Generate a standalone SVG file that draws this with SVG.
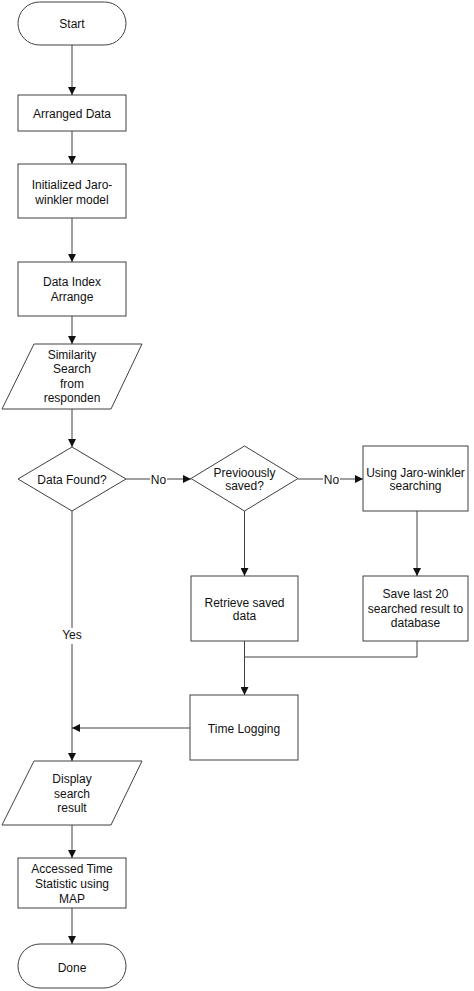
<svg xmlns="http://www.w3.org/2000/svg" width="474" height="991" viewBox="0 0 474 991">
<style>
.s{fill:#fff;stroke:#404040;stroke-width:1}
.c{fill:none;stroke:#404040;stroke-width:1}
text{font-family:"Liberation Sans",Arial,sans-serif;font-size:12px;fill:#111;text-anchor:middle}
</style>
<defs>
<marker id="ah" viewBox="0 0 10 10" refX="10" refY="5" markerWidth="8" markerHeight="8" markerUnits="userSpaceOnUse" orient="auto">
<path d="M0,0 L10,5 L0,10 z" fill="#111"/>
</marker>
</defs>
<rect width="474" height="991" fill="#fff"/>
<g id="connectors">
<path class="c" d="M72,45 V95" marker-end="url(#ah)"/>
<path class="c" d="M72,131 V164" marker-end="url(#ah)"/>
<path class="c" d="M72,218 V262" marker-end="url(#ah)"/>
<path class="c" d="M72,316 V344" marker-end="url(#ah)"/>
<path class="c" d="M72,409 V447" marker-end="url(#ah)"/>
<path class="c" d="M126,479 H191" marker-end="url(#ah)"/>
<path class="c" d="M298,479 H363" marker-end="url(#ah)"/>
<path class="c" d="M244.5,511 V576" marker-end="url(#ah)"/>
<path class="c" d="M417,511 V576" marker-end="url(#ah)"/>
<path class="c" d="M244.5,641 V695" marker-end="url(#ah)"/>
<path class="c" d="M417,641 V657 H244.5"/>
<path class="c" d="M190,728 H72" marker-end="url(#ah)"/>
<path class="c" d="M72,511 V761" marker-end="url(#ah)"/>
<path class="c" d="M72,825 V858" marker-end="url(#ah)"/>
<path class="c" d="M72,908 V944" marker-end="url(#ah)"/>
<rect x="150" y="472" width="17" height="14" fill="#fff"/>
<text x="158.5" y="483.5">No</text>
<rect x="323" y="472" width="17" height="14" fill="#fff"/>
<text x="331.5" y="483.5">No</text>
<rect x="61" y="628" width="22" height="16" fill="#fff"/>
<text x="72" y="639">Yes</text>
</g>
<g id="start">
<rect class="s" x="18" y="2" width="108" height="43" rx="21.5"/>
<text x="72" y="27.5">Start</text>
</g>
<g id="arranged-data">
<rect class="s" x="18" y="95" width="108" height="36"/>
<text x="72" y="117.5">Arranged Data</text>
</g>
<g id="init-model">
<rect class="s" x="18" y="164" width="108" height="54"/>
<text x="72" y="188.5">Initialized Jaro-</text>
<text x="72" y="203.5">winkler model</text>
</g>
<g id="data-index">
<rect class="s" x="18" y="262" width="108" height="54"/>
<text x="72" y="285.5">Data Index</text>
<text x="72" y="300.5">Arrange</text>
</g>
<g id="similarity-search">
<path class="s" d="M34,344 H142 L111,409 H2 Z"/>
<text x="72" y="358.5">Similarity</text>
<text x="72" y="373">Search</text>
<text x="72" y="387.5">from</text>
<text x="72" y="402">responden</text>
</g>
<g id="data-found">
<path class="s" d="M72,447 L126,479 L72,511 L18,479 Z"/>
<text x="72" y="483.5">Data Found?</text>
</g>
<g id="previously-saved">
<path class="s" d="M244.5,446 L298,478.5 L244.5,511 L191,478.5 Z"/>
<text x="244.5" y="476.5">Previoously</text>
<text x="244.5" y="489.5">saved?</text>
</g>
<g id="jaro-search">
<rect class="s" x="363" y="446" width="105" height="65"/>
<text x="415.5" y="476.5">Using Jaro-winkler</text>
<text x="415.5" y="489.5">searching</text>
</g>
<g id="retrieve">
<rect class="s" x="191" y="576" width="107" height="65"/>
<text x="244.5" y="606.5">Retrieve saved</text>
<text x="244.5" y="619.5">data</text>
</g>
<g id="save-last">
<rect class="s" x="363" y="576" width="105" height="65"/>
<text x="415.5" y="597.5">Save last 20</text>
<text x="415.5" y="613">searched result to</text>
<text x="415.5" y="626.5">database</text>
</g>
<g id="time-logging">
<rect class="s" x="190" y="695" width="108" height="65"/>
<text x="244" y="732.5">Time Logging</text>
</g>
<g id="display-result">
<path class="s" d="M34,761 H142 L111,825 H2 Z"/>
<text x="72" y="782.5">Display</text>
<text x="72" y="797.5">search</text>
<text x="72" y="811.5">result</text>
</g>
<g id="accessed-time">
<rect class="s" x="18" y="858" width="108" height="50"/>
<text x="72" y="872.5">Accessed Time</text>
<text x="72" y="887.5">Statistic using</text>
<text x="72" y="902.5">MAP</text>
</g>
<g id="done">
<rect class="s" x="18" y="944" width="108" height="44" rx="22"/>
<text x="72" y="971.5">Done</text>
</g>
</svg>
